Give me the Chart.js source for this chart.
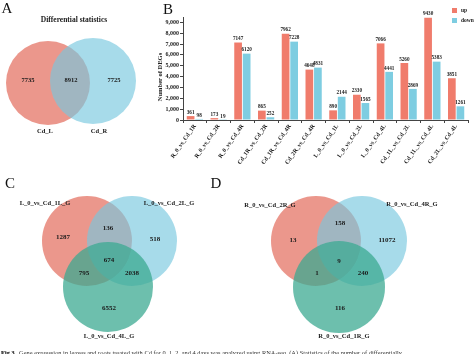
<!DOCTYPE html>
<html><head><meta charset="utf-8">
<script src="https://cdn.jsdelivr.net/npm/chart.js@4.4.0/dist/chart.umd.min.js"></script>
<style>
html,body{margin:0;padding:0;background:#fff;width:474px;height:354px;overflow:hidden;}
#venn{position:absolute;left:0;top:0;}
#bars{position:absolute;left:150px;top:0;}
</style></head><body>
<canvas id="venn" width="474" height="354"></canvas>
<canvas id="bars" width="324" height="172"></canvas>
<script>
// ---------- DATA ----------
const categories = ['R_0_vs_Cd_1R','R_0_vs_Cd_2R','R_0_vs_Cd_4R','Cd_1R_vs_Cd_2R','Cd_1R_vs_Cd_4R','Cd_2R_vs_Cd_4R',
  'L_0_vs_Cd_1L','L_0_vs_Cd_2L','L_0_vs_Cd_4L','Cd_1L_vs_Cd_2L','Cd_1L_vs_Cd_4L','Cd_2L_vs_Cd_4L'];
const upValues   = [361, 173, 7147, 865, 7962, 4648, 890, 2330, 7066, 5260, 9430, 3851];
const downValues = [98, 19, 6120, 252, 7228, 4831, 2144, 1565, 4441, 2869, 5383, 1261];
const yTicks = [0,1000,2000,3000,4000,5000,6000,7000,8000,9000];
const seriesNames = ['up','down'];

const vennATitle = 'Differential statistics';
const vennASets = ['Cd_L','Cd_R'];
const vennACounts = [7735, 8912, 7725];            // only L, both, only R
const vennCSets = ['L_0_vs_Cd_1L_G','L_0_vs_Cd_2L_G','L_0_vs_Cd_4L_G'];
const vennCCounts = [1287, 518, 6552, 136, 795, 2038, 674]; // 1,2,3,12,13,23,123
const vennDSets = ['R_0_vs_Cd_2R_G','R_0_vs_Cd_4R_G','R_0_vs_Cd_1R_G'];
const vennDCounts = [13, 11072, 116, 158, 1, 240, 9];

const caption = 'Fig 3.  Gene expression in leaves and roots treated with Cd for 0, 1, 2, and 4 days was analyzed using RNA-seq. (A) Statistics of the number of differentially';

// ---------- LAYOUT / STYLE ----------
const SERIF = "'Liberation Serif', 'DejaVu Serif', serif";
const BAR_RED = '#F07C6C', BAR_BLUE = '#7ECDE1';
const V_RED = 'rgba(224,96,79,0.65)', V_BLUE = 'rgba(120,200,222,0.65)', V_GREEN = 'rgba(60,170,145,0.75)';

const layout = {
  A: { circles: [[48,83,42],[93,81,43]], title:[74,20], sets:[[45,131],[99,131]],
       regions:[[28,80],[71,80],[114,80]] },
  C: { circles: [[87,241,45],[132,241,45],[108,287,45]], sets:[[45,203],[169,203],[109,336]],
       regions:[[63,237],[155,239],[109,308],[108,228],[84,273],[132,273],[109,260]] },
  D: { circles: [[316,241,45],[362,241,45],[339,287,46]], sets:[[270,205],[412,204],[344,336]],
       regions:[[293,240],[387,240],[340,308],[340,223],[317,273],[363,273],[339,261]] },
  letters: [['A',7,9],['B',168,10],['C',10,184],['D',216,184]]
};

// ---------- VENN CANVAS ----------
function circlesOf(idx){
  return [layout.A, layout.C, layout.D].filter(p => p.circles[idx]).map(p => ({x:p.circles[idx][0], y:p.circles[idx][1], r:p.circles[idx][2]}));
}
const vennText = {
  id:'vennText',
  afterDatasetsDraw(chart){
    const ctx = chart.ctx, xs = chart.scales.x, ys = chart.scales.y;
    const P = (pt) => [xs.getPixelForValue(pt[0]), ys.getPixelForValue(pt[1])];
    ctx.save();
    ctx.fillStyle = '#1a1a1a';
    ctx.textAlign = 'center'; ctx.textBaseline = 'middle';
    ctx.font = 'bold 7.5px ' + SERIF;
    let p = P(layout.A.title); ctx.fillText(vennATitle, p[0], p[1]);
    ctx.font = 'bold 6.5px ' + SERIF;
    vennASets.forEach((s,i)=>{ p=P(layout.A.sets[i]); ctx.fillText(s,p[0],p[1]); });
    vennACounts.forEach((v,i)=>{ p=P(layout.A.regions[i]); ctx.fillText(String(v),p[0],p[1]); });
    ctx.font = 'bold 6.5px ' + SERIF;
    vennCSets.forEach((s,i)=>{ p=P(layout.C.sets[i]); ctx.fillText(s,p[0],p[1]); });
    vennDSets.forEach((s,i)=>{ p=P(layout.D.sets[i]); ctx.fillText(s,p[0],p[1]); });
    ctx.font = 'bold 7px ' + SERIF;
    vennCCounts.forEach((v,i)=>{ p=P(layout.C.regions[i]); ctx.fillText(String(v),p[0],p[1]); });
    vennDCounts.forEach((v,i)=>{ p=P(layout.D.regions[i]); ctx.fillText(String(v),p[0],p[1]); });
    ctx.font = '15px ' + SERIF; ctx.fillStyle = '#111';
    layout.letters.forEach(l=>{ p=P([l[1],l[2]]); ctx.fillText(l[0],p[0],p[1]); });
    ctx.textAlign = 'left'; ctx.textBaseline = 'alphabetic';
    ctx.font = '6.4px ' + SERIF; ctx.fillStyle = '#333';
    ctx.fillText(caption, 1, 355);
    ctx.font = 'bold 6.4px ' + SERIF;
    ctx.fillText('Fig 3.', 1, 355);
    ctx.restore();
  }
};

new Chart(document.getElementById('venn'), {
  type:'bubble',
  data:{ datasets:[
    { label:'set3', data: circlesOf(2), backgroundColor:V_GREEN, borderWidth:0, order:0, clip:false },
    { label:'set2', data: circlesOf(1), backgroundColor:V_BLUE, borderWidth:0, order:1, clip:false },
    { label:'set1', data: circlesOf(0), backgroundColor:V_RED, borderWidth:0, order:2, clip:false }
  ]},
  options:{
    responsive:false, animation:false, devicePixelRatio:1, events:[],
    layout:{padding:0, autoPadding:false},
    plugins:{legend:{display:false}, tooltip:{enabled:false}},
    scales:{
      x:{type:'linear', min:0, max:474, display:false},
      y:{type:'linear', min:0, max:354, reverse:true, display:false}
    }
  },
  plugins:[vennText]
});

// ---------- BAR CHART ----------
const barLabels = {
  id:'barLabels',
  afterDatasetsDraw(chart){
    const ctx = chart.ctx;
    ctx.save();
    ctx.font = 'bold 5.2px ' + SERIF; ctx.fillStyle = '#222';
    ctx.textAlign = 'center'; ctx.textBaseline = 'bottom';
    chart.data.datasets.forEach((ds,di)=>{
      chart.getDatasetMeta(di).data.forEach((bar,i)=>{
        ctx.fillText(String(ds.data[i]), bar.x, bar.y - 1);
      });
    });
    ctx.save();
    ctx.translate(10, 77); ctx.rotate(-Math.PI/2);
    ctx.font = 'bold 6.5px ' + SERIF; ctx.textBaseline = 'middle';
    ctx.fillText('Number of DEGs', 0, 0);
    ctx.restore();
    const lx = 302, ly = [8, 18];
    chart.data.datasets.forEach((ds,di)=>{
      ctx.fillStyle = ds.backgroundColor;
      ctx.fillRect(lx, ly[di], 5, 5);
      ctx.fillStyle = '#222'; ctx.textAlign='left'; ctx.textBaseline='middle';
      ctx.font = 'bold 5.5px ' + SERIF;
      ctx.fillText(ds.label, lx + 9, ly[di] + 2.5);
    });
    ctx.restore();
  }
};

new Chart(document.getElementById('bars'), {
  type:'bar',
  data:{ labels: categories, datasets:[
    { label: seriesNames[0], data: upValues, backgroundColor: BAR_RED, categoryPercentage:0.72, barPercentage:0.9 },
    { label: seriesNames[1], data: downValues, backgroundColor: BAR_BLUE, categoryPercentage:0.72, barPercentage:0.9 }
  ]},
  options:{
    responsive:false, animation:false, devicePixelRatio:1, events:[],
    layout:{padding:{top:17, right:6, left:0, bottom:0}, autoPadding:false},
    plugins:{legend:{display:false}, tooltip:{enabled:false}},
    scales:{
      x:{
        grid:{display:true, drawOnChartArea:false, tickLength:3, color:'#444', offset:true},
        border:{display:true, color:'#444', width:1},
        ticks:{color:'#222', font:{family:SERIF, size:6, weight:'bold'}, minRotation:55, maxRotation:55, padding:0, autoSkip:false},
        afterFit(s){ s.height = 52; }
      },
      y:{
        min:0, max:9500,
        afterBuildTicks(s){ s.ticks = yTicks.map(v=>({value:v})); },
        grid:{display:true, drawOnChartArea:false, tickLength:3, color:'#444'},
        border:{display:true, color:'#444', width:1},
        ticks:{color:'#222', font:{family:SERIF, size:6, weight:'bold'}, padding:1},
        afterFit(s){ s.width = 33; }
      }
    }
  },
  plugins:[barLabels]
});
</script>
</body></html>
